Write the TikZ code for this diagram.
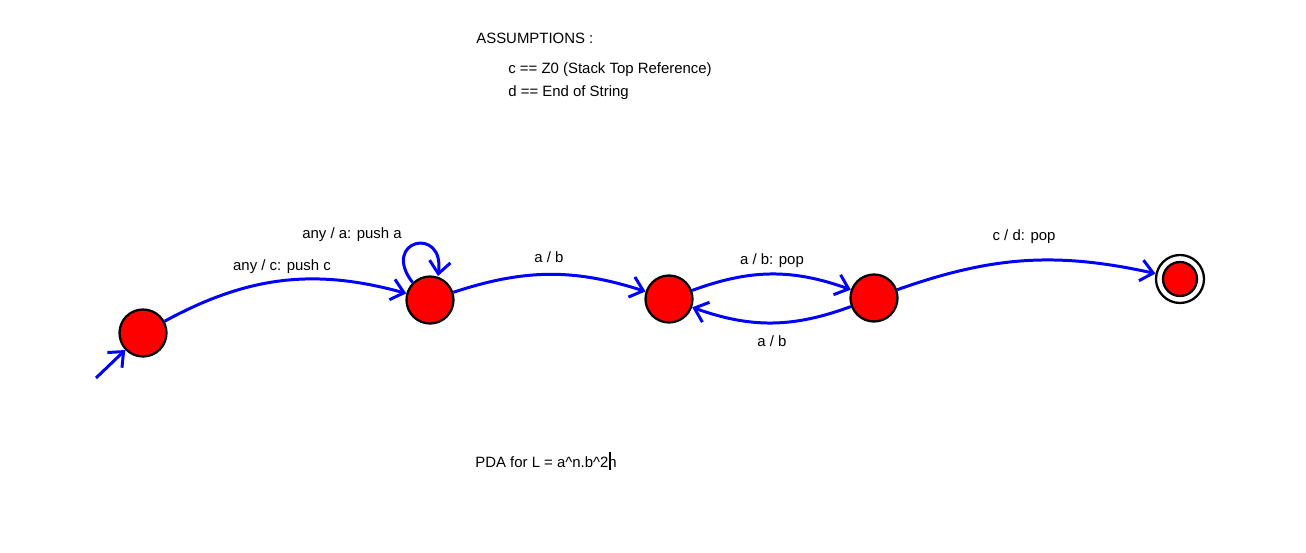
\documentclass[tikz,border=0pt]{standalone}
\usepackage{fontspec}
\setmainfont{Liberation Sans}
\usetikzlibrary{arrows.meta}
\begin{document}
\begin{tikzpicture}[x=0.02cm,y=-0.02cm,
  st/.style={circle,draw=black,line width=1.3pt,fill=red,minimum size=0.94cm,inner sep=0pt},
  tr/.style={draw=blue,line width=1.7pt,-{Straight Barb[length=7pt,width=12pt,line width=1.7pt]}},
  lb/.style={font=\fontsize{8.5}{10}\selectfont,inner sep=1pt},
  tx/.style={font=\fontsize{8.5}{10}\selectfont,anchor=west,inner sep=0pt}]
\useasboundingbox (0,0) rectangle (1306,553);
\node[st] (q0) at (143,333) {};
\node[st] (q1) at (430,300) {};
\node[st] (q2) at (669,299) {};
\node[st] (q3) at (874,298) {};
\node[circle,draw=black,line width=1.3pt,fill=white,minimum size=0.96cm,inner sep=0pt] (q4o) at (1180,279) {};
\node[circle,draw=black,line width=1.3pt,fill=red,minimum size=0.68cm,inner sep=0pt] (q4) at (1180,279) {};
\coordinate (s) at (96,378);
\draw[tr] (s) -- (q0);
\draw[tr] (q0) to[bend left=22] (q1);
\draw[tr] (q1.north west) .. controls (380,240) and (445,225) .. (438,276);
\draw[tr] (q1) to[bend left=18] (q2);
\draw[tr] (q2) to[bend left=20] (q3);
\draw[tr] (q3) to[bend left=20] (q2);
\draw[tr] (q3) to[bend left=16] (q4o);
\node[lb] at (282,267) {any / c: push c};
\node[lb] at (352,235) {any / a: push a};
\node[lb] at (549,257) {a / b};
\node[lb] at (772,261) {a / b: pop};
\node[lb] at (772,341) {a / b};
\node[lb] at (1024,237) {c / d: pop};
\node[tx] at (476,38) {ASSUMPTIONS :};
\node[tx] at (508,70) {c == Z0 (Stack Top Reference)};
\node[tx] at (508,93) {d == End of String};
\node[tx] (pda) at (475,462) {PDA for L = a\^{}n.b\^{}2n};
\draw[black,line width=0.6pt] (610,452) -- (610,470);
\end{tikzpicture}
\end{document}
